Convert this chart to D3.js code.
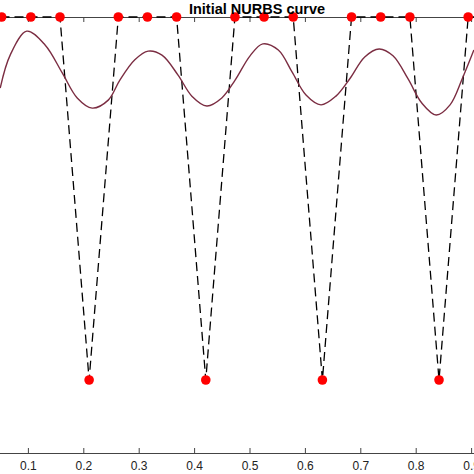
<!DOCTYPE html>
<html><head><meta charset="utf-8">
<script src="https://cdn.jsdelivr.net/npm/d3@7"></script>
<style>body{margin:0;background:#fff}</style></head>
<body><svg id="c" width="474" height="474"></svg>
<script>
const ctrlX = [0,0.0526,0.1053,0.1579,0.2105,0.2632,0.3158,0.3684,0.4211,0.4737,0.5263,0.5789,0.6316,0.6842,0.7368,0.7895,0.8421,0.8947,0.9474];
const ctrlY = [1,1,1,1,0,1,1,1,0,1,1,1,0,1,1,1,0,1,1];
const curveX = [.050,.068,.098,.131,.162,.189,.216,.245,.266,.293,.317,.342,.371,.396,.423,.450,.474,.501,.524,.552,.577,.602,.629,.656,.681,.708,.734,.759,.786,.811,.837,.862,.884,.905];
const curveY = [.804,.895,.961,.923,.846,.777,.749,.771,.826,.882,.906,.895,.840,.782,.755,.777,.826,.893,.926,.909,.848,.785,.758,.782,.830,.890,.912,.893,.830,.763,.730,.758,.830,.909];
const ticks = [0.1,0.2,0.3,0.4,0.5,0.6,0.7,0.8,0.9];

const svg = d3.select('#c');
const x = d3.scaleLinear().domain([0,1]).range([-27.5,526.5]);
const y = d3.scaleLinear().domain([0,1]).range([380,17]);
const yAxisPx = 453;

const bot = svg.append('g').attr('transform',`translate(0,${yAxisPx})`)
  .call(d3.axisBottom(x).tickValues(ticks).tickSize(-5).tickPadding(8).tickSizeOuter(0));
bot.select('.domain').attr('stroke','#444');
bot.selectAll('line').attr('stroke','#444');
bot.selectAll('text').attr('font-family','Liberation Sans, Arial').attr('font-size',12).attr('fill','#222');
const topAx = svg.append('g').attr('transform',`translate(0,17)`)
  .call(d3.axisTop(x).tickValues(ticks).tickSize(-5).tickFormat('').tickSizeOuter(0));
topAx.select('.domain').attr('stroke','#444');
topAx.selectAll('line').attr('stroke','#444');

const pts = ctrlX.map((v,i)=>[v,ctrlY[i]]);
svg.append('path').datum(pts).attr('fill','none').attr('stroke','#000').attr('stroke-width',1.3)
  .attr('stroke-dasharray','9,5').attr('d',d3.line().x(d=>x(d[0])).y(d=>y(d[1])));

const cp = curveX.map((v,i)=>[v,curveY[i]]);
svg.append('path').datum(cp).attr('fill','none').attr('stroke','#7b2d42').attr('stroke-width',1.4)
  .attr('d',d3.line().x(d=>x(d[0])).y(d=>y(d[1])).curve(d3.curveCatmullRom));

svg.selectAll('circle').data(pts).join('circle').attr('cx',d=>x(d[0])).attr('cy',d=>y(d[1]))
  .attr('r',4.8).attr('fill','#f00');

svg.append('text').attr('x',257).attr('y',14).attr('text-anchor','middle')
  .attr('font-family','Liberation Sans, Arial').attr('font-weight','bold').attr('font-size',14.5).text('Initial NURBS curve');
</script></body></html>
